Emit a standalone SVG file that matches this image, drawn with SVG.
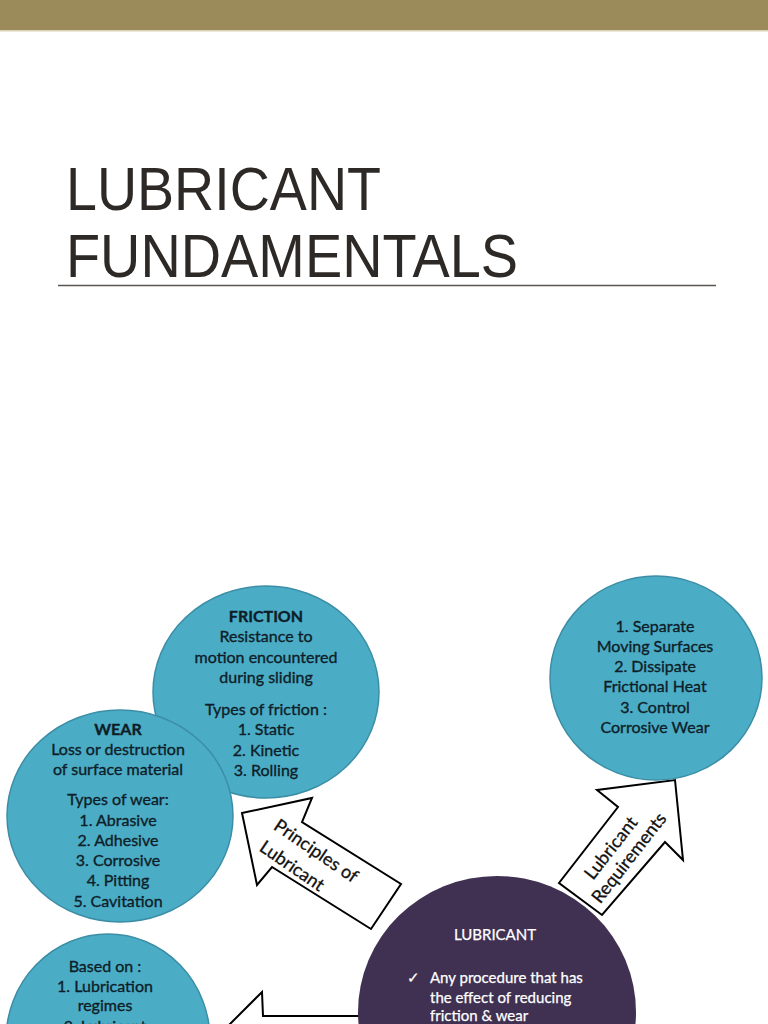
<svg xmlns="http://www.w3.org/2000/svg" width="768" height="1024" viewBox="0 0 768 1024">
<style>
.t{font-family:Lato,"Open Sans","Liberation Sans",sans-serif;font-size:16px;fill:#0e1e28;stroke:#0e1e28;stroke-width:0.35;text-anchor:middle}
.b{font-weight:bold}
.teal{fill:#4BACC6;stroke:#3b8ea5;stroke-width:1.5}
.arr{fill:#fff;stroke:#000;stroke-width:2;stroke-linejoin:miter}
.at{font-family:Lato,"Open Sans","Liberation Sans",sans-serif;font-size:18px;fill:#111;stroke:#111;stroke-width:0.3;text-anchor:middle}
.w{font-family:Lato,"Open Sans","Liberation Sans",sans-serif;font-size:15px;fill:#fff;stroke:#fff;stroke-width:0.25}
.title{font-family:"Liberation Sans",Arial,sans-serif;font-size:62px;fill:#2d2926}
</style>
<rect x="0" y="0" width="768" height="30" fill="#9C8B5A"/>
<rect x="0" y="30" width="768" height="1.5" fill="#d9d2b4"/>
<text class="title" x="66" y="210" textLength="315" lengthAdjust="spacingAndGlyphs">LUBRICANT</text>
<text class="title" x="66" y="277" textLength="452" lengthAdjust="spacingAndGlyphs">FUNDAMENTALS</text>
<line x1="58" y1="285.5" x2="716" y2="285.5" stroke="#5a5550" stroke-width="1.5"/>

<g id="connectors">
<polygon class="arr" points="242,813 312,798 302,822 401,884 371,929 272,867 257,885"/>
<polygon class="arr" points="675,780 683,860 665,842 602,915 559,883 618,807 597,790"/>
<polygon class="arr" points="211,1043 262,992 263,1016 380,1016 380,1070 263,1070 262,1094"/>
<text class="at" transform="translate(316,851) rotate(34.5)" y="6">Principles of</text>
<text class="at" transform="translate(292,866) rotate(34.5)" y="6">Lubricant</text>
<text class="at" transform="translate(611,848) rotate(-52)" y="6">Lubricant</text>
<text class="at" transform="translate(629,858) rotate(-52)" y="6">Requirements</text>
</g>

<g id="friction">
<ellipse class="teal" cx="266" cy="692" rx="113" ry="106"/>
<text class="t b" x="266" y="622">FRICTION</text>
<text class="t" x="266" y="642">Resistance to</text>
<text class="t" x="266" y="663">motion encountered</text>
<text class="t" x="266" y="683">during sliding</text>
<text class="t" x="266" y="715">Types of friction :</text>
<text class="t" x="266" y="735">1. Static</text>
<text class="t" x="266" y="756">2. Kinetic</text>
<text class="t" x="266" y="776">3. Rolling</text>
</g>

<g id="wear">
<ellipse class="teal" cx="120" cy="816" rx="113" ry="106"/>
<text class="t b" x="118" y="735">WEAR</text>
<text class="t" x="118" y="755">Loss or destruction</text>
<text class="t" x="118" y="775">of surface material</text>
<text class="t" x="118" y="805">Types of wear:</text>
<text class="t" x="118" y="826">1. Abrasive</text>
<text class="t" x="118" y="846">2. Adhesive</text>
<text class="t" x="118" y="866">3. Corrosive</text>
<text class="t" x="118" y="886">4. Pitting</text>
<text class="t" x="118" y="907">5. Cavitation</text>
</g>

<g id="requirements">
<ellipse class="teal" cx="656" cy="678" rx="106" ry="102"/>
<text class="t" x="655" y="632">1. Separate</text>
<text class="t" x="655" y="652">Moving Surfaces</text>
<text class="t" x="655" y="672">2. Dissipate</text>
<text class="t" x="655" y="692">Frictional Heat</text>
<text class="t" x="655" y="713">3. Control</text>
<text class="t" x="655" y="733">Corrosive Wear</text>
</g>

<g id="classification">
<ellipse class="teal" cx="108" cy="1040" rx="102" ry="106"/>
<text class="t" x="105" y="972">Based on :</text>
<text class="t" x="105" y="992">1. Lubrication</text>
<text class="t" x="105" y="1011">regimes</text>
<text class="t" x="105" y="1032">2. Lubricant</text>
</g>

<g id="lubricant">
<ellipse cx="497" cy="1012" rx="139" ry="136" fill="#403152"/>
<text class="w" x="495" y="940" text-anchor="middle" font-size="16">LUBRICANT</text>
<text class="w" x="407" y="983">✓</text>
<text class="w" x="430" y="983">Any procedure that has</text>
<text class="w" x="430" y="1003">the effect of reducing</text>
<text class="w" x="430" y="1021">friction &amp; wear</text>
</g>
</svg>
